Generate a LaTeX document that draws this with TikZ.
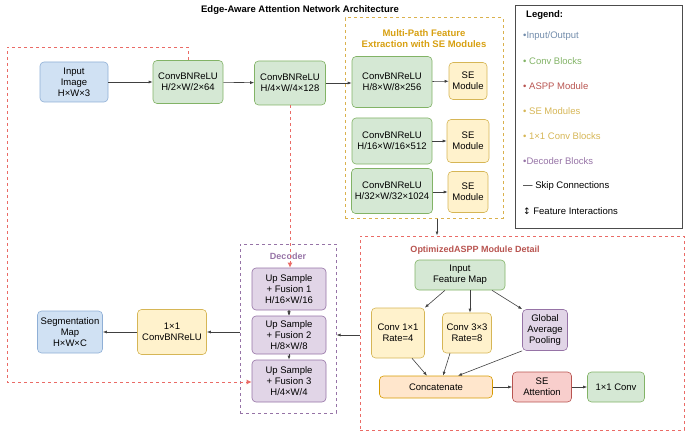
\documentclass[tikz,border=0pt]{standalone}
\usepackage{fontspec}
\setmainfont{Liberation Sans}
\usetikzlibrary{arrows.meta}
\definecolor{bF}{HTML}{D0E1F3}\definecolor{bD}{HTML}{8FAFD6}
\definecolor{gF}{HTML}{D5E8D4}\definecolor{gD}{HTML}{82B366}
\definecolor{yF}{HTML}{FFF2CC}\definecolor{yD}{HTML}{D6B656}
\definecolor{rF}{HTML}{F8CECC}\definecolor{rD}{HTML}{B85450}
\definecolor{pF}{HTML}{E1D5E7}\definecolor{pD}{HTML}{9673A6}
\definecolor{oF}{HTML}{FFE6CC}\definecolor{oD}{HTML}{D79B00}
\definecolor{skipR}{HTML}{EA6B66}
\begin{document}
\begin{tikzpicture}[x=1pt,y=-1pt,
  every node/.style={font=\fontsize{9.5}{11}\selectfont,align=center,inner sep=1pt},
  box/.style={draw,rounded corners=4pt,line width=0.6pt,minimum width=#1},
  blu/.style={box=#1,fill=bF,draw=bD},
  grn/.style={box=#1,fill=gF,draw=gD},
  yel/.style={box=#1,fill=yF,draw=yD},
  red/.style={box=#1,fill=rF,draw=rD},
  pur/.style={box=#1,fill=pF,draw=pD},
  org/.style={box=#1,fill=oF,draw=oD},
  arr/.style={-{Latex[length=4pt,width=3pt]},draw=black!75,line width=0.6pt},
  skip/.style={skipR,dashed,line width=1pt,-{Latex[length=5pt,width=5pt]}},
  grp/.style={dashed,line width=1pt}]
\useasboundingbox (0,0) rectangle (685,433);
\node[font=\bfseries\fontsize{9.5}{11}\selectfont] (title) at (300,10) {Edge-Aware Attention Network  Architecture};
% groups
\node[grp,draw=yD!90!orange,minimum width=158,minimum height=200] (ygrp) at (424,118) {};
\node[font=\bfseries\fontsize{9.5}{11}\selectfont,text=oD!80!yD] (ytitle) at (424,39) {Multi-Path Feature\\Extraction with SE Modules};
\node[grp,draw=skipR,minimum width=324,minimum height=194] (agrp) at (522,333) {};
\node[font=\bfseries\fontsize{9}{11}\selectfont,text=rD] (atitle) at (475,250) {OptimizedASPP Module Detail};
\node[grp,draw=pD,minimum width=96,minimum height=169] (dgrp) at (288,328.5) {};
\node[font=\bfseries\fontsize{9}{11}\selectfont,text=pD] (dtitle) at (288,256) {Decoder};
% encoder
\node[blu=68,minimum height=40] (in) at (74,82) {Input\\Image\\H×W×3};
\node[grn=70,minimum height=43] (c1) at (188,82) {ConvBNReLU\\H/2×W/2×64};
\node[grn=71,minimum height=44] (c2) at (290,83) {ConvBNReLU\\H/4×W/4×128};
\node[grn=80,minimum height=51] (c3) at (392,82) {ConvBNReLU\\H/8×W/8×256};
\node[yel=38,minimum height=37] (s3) at (468,81) {SE\\Module};
\node[grn=80,minimum height=46] (c4) at (392,141) {ConvBNReLU\\H/16×W/16×512};
\node[yel=42,minimum height=43] (s4) at (468,141) {SE\\Module};
\node[grn=81,minimum height=45] (c5) at (392,191) {ConvBNReLU\\H/32×W/32×1024};
\node[yel=40,minimum height=41] (s5) at (468,192) {SE\\Module};
\draw[arr] (in) -- (c1);
\draw[arr] (c1) -- (c2);
\draw[arr] (c2.east) -- (c3.west|-c2.east);
\draw[arr] (c3) -- (s3);
\draw[arr] (c4) -- (s4);
\draw[arr] (c5.east|-s5) -- (s5);
% ASPP
\node[grn=90,minimum height=30] (ifm) at (460,275) {Input\\Feature Map};
\node[yel=53,minimum height=50] (a1) at (398,333) {Conv 1×1\\Rate=4};
\node[yel=49,minimum height=40] (a2) at (467,333) {Conv 3×3\\Rate=8};
\node[pur=45,minimum height=41] (a3) at (545,330) {Global\\Average\\Pooling};
\node[org=113,minimum height=22] (cat) at (436,387) {Concatenate};
\node[red=59,minimum height=30] (sea) at (542,387) {SE\\Attention};
\node[grn=57,minimum height=30] (o1) at (616,387) {1×1 Conv};
\draw[arr] (ifm.south-|445,0) -- (a1.north east);
\draw[arr] (ifm.south-|470,0) -- (a2.north-|470,0);
\draw[arr] (ifm.south-|492,0) -- (a3.north west);
\draw[arr] (a1.south-|412,0) -- (cat.north-|427,0);
\draw[arr] (a2.south-|450,0) -- (cat.north-|443,0);
\draw[arr] (a3.south west) -- (cat.north-|458,0);
\draw[arr] (cat) -- (sea);
\draw[arr] (sea) -- (o1);
\draw[arr] (ygrp.south-|437,0) -- (agrp.north-|437,0);
% decoder
\node[pur=74,minimum height=42] (f1) at (289,289) {Up Sample\\+ Fusion 1\\H/16×W/16};
\node[pur=74,minimum height=38] (f2) at (289,335) {Up Sample\\+ Fusion 2\\H/8×W/8};
\node[pur=74,minimum height=42] (f3) at (289,381) {Up Sample\\+ Fusion 3\\H/4×W/4};
\draw[black!75,line width=0.6pt,{Circle[length=3pt]}-{Latex[length=3pt,width=3pt]}] (f1) -- (f2);
\draw[arr] (f2) -- (f3);
\node[yel=69,minimum height=45] (p1) at (172,332) {1×1\\ConvBNReLU};
\node[blu=65,minimum height=42] (seg) at (70,332) {Segmentation\\Map\\H×W×C};
\draw[arr] (agrp.west|-f2) -- (dgrp.east|-f2);
\draw[arr] (dgrp.west|-p1) -- (p1);
\draw[arr] (p1) -- (seg);
% skips
\draw[skip] (c1.north) -- ++(0,-13) -| (7,382) -- (f3.west|-382,382);
\draw[skip] (c2.south) -- (f1.north-|c2.south);
% legend
\node[draw=black!70,line width=0.6pt,minimum width=167,minimum height=223] (leg) at (598.5,116.5) {};
\node[anchor=west,font=\bfseries\fontsize{9.5}{11}\selectfont] (l0) at (525,15) {Legend:};
\node[anchor=west,text=bD!80!black] (l1) at (522,36) {•Input/Output};
\node[anchor=west,text=gD] (l2) at (522,61) {• Conv Blocks};
\node[anchor=west,text=rD] (l3) at (522,86) {• ASPP Module};
\node[anchor=west,text=yD] (l4) at (522,111) {• SE Modules};
\node[anchor=west,text=yD] (l5) at (522,136) {• 1×1 Conv Blocks};
\node[anchor=west,text=pD] (l6) at (522,161) {•Decoder Blocks};
\node[anchor=west] (l7) at (522,186) {— Skip Connections};
\node[anchor=west] (l8) at (522,211) {\fontspec{DejaVu Sans}\fontsize{9}{11}\selectfont ↕\fontspec{Liberation Sans}\fontsize{9.5}{11}\selectfont{} Feature Interactions};
\end{tikzpicture}
\end{document}
